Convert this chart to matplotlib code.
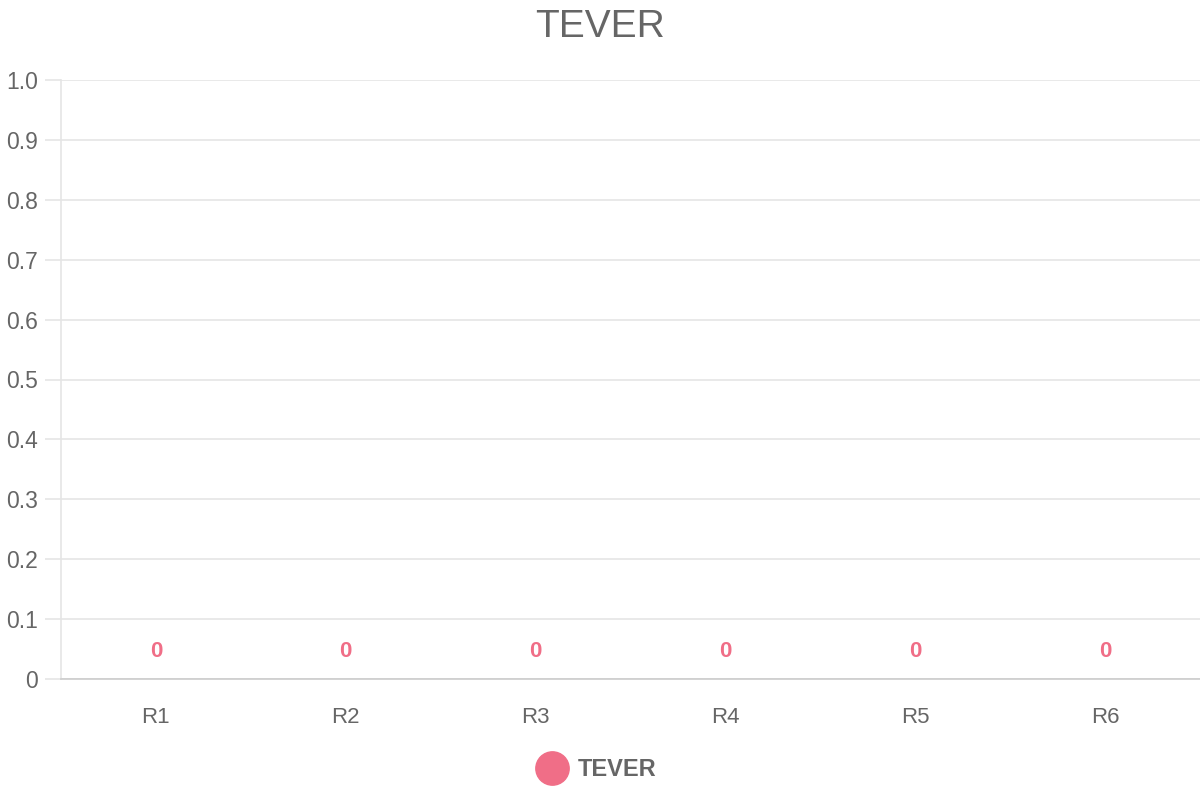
import matplotlib.pyplot as plt
from matplotlib.lines import Line2D

categories = ['R1', 'R2', 'R3', 'R4', 'R5', 'R6']
values = [0, 0, 0, 0, 0, 0]
series_name = 'TEVER'
yticks = [0, 0.1, 0.2, 0.3, 0.4, 0.5, 0.6, 0.7, 0.8, 0.9, 1.0]
ytick_labels = ['0', '0.1', '0.2', '0.3', '0.4', '0.5', '0.6', '0.7', '0.8', '0.9', '1.0']

pink = '#f06e87'
text_col = '#666666'
grid_col = '#e5e5e5'

plt.rcParams['font.family'] = ['Liberation Sans', 'DejaVu Sans']

fig = plt.figure(figsize=(12, 8), dpi=100)
ax = fig.add_axes([61 / 1200, 1 - 679 / 800, 1 - 61 / 1200, 599 / 800])

x = range(len(categories))
ax.bar(x, values, width=0.8, color=pink)
for xi, v in zip(x, values):
    ax.annotate(str(v), (xi, v), xytext=(0, 20), textcoords='offset points',
                ha='center', va='center', color=pink, fontsize=16, fontweight='bold')

ax.set_xlim(-0.5, len(categories) - 0.5)
ax.set_ylim(0, 1.0)
ax.set_xticks(list(x))
ax.set_xticklabels(categories)
ax.set_yticks(yticks)
ax.set_yticklabels(ytick_labels)

ax.tick_params(axis='x', length=0, pad=20, labelsize=16, labelcolor=text_col)
ax.tick_params(axis='y', length=11.5, width=1.2, color=grid_col, pad=5,
               labelsize=16.5, labelcolor=text_col)
ax.grid(axis='y', color=grid_col, linewidth=1.2)
ax.set_axisbelow(True)

for s in ['top', 'right']:
    ax.spines[s].set_visible(False)
ax.spines['left'].set_color(grid_col)
ax.spines['left'].set_linewidth(1.2)
ax.spines['bottom'].set_color('#cccccc')
ax.spines['bottom'].set_linewidth(1.2)

fig.text(0.5, 1 - 27 / 800, series_name, ha='center', va='center',
         fontsize=28, color=text_col)

handle = Line2D([], [], linestyle='none', marker='o', markersize=24,
                markerfacecolor=pink, markeredgecolor=pink)
leg = fig.legend([handle], [series_name], loc='center',
                 bbox_to_anchor=(0.4975, 1 - 770 / 800), frameon=False,
                 handlelength=1.2, handletextpad=0.5,
                 prop={'size': 17, 'weight': 'bold'})
for t in leg.get_texts():
    t.set_color(text_col)

fig.savefig('out.png', dpi=100)
